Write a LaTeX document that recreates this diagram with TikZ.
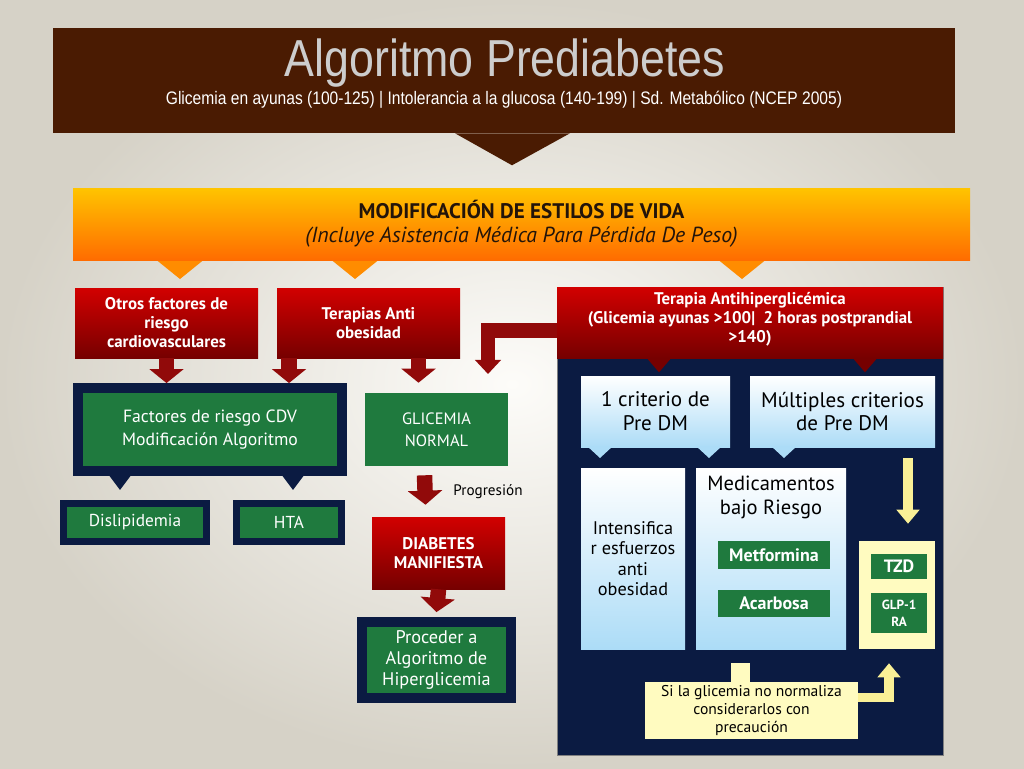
\documentclass[tikz,border=0pt]{standalone}
\usepackage{fontspec}
\setmainfont{PT Sans}
\newfontfamily\titulofont[FakeStretch=0.86]{Liberation Sans}
\usetikzlibrary{arrows.meta,calc}

\definecolor{cafe}{RGB}{74,27,2}
\definecolor{gristit}{RGB}{205,205,205}
\definecolor{naranjaA}{RGB}{255,196,0}
\definecolor{naranjaB}{RGB}{255,108,0}
\definecolor{naranjaT}{RGB}{255,140,0}
\definecolor{rojoA}{RGB}{210,0,0}
\definecolor{rojoB}{RGB}{118,0,0}
\definecolor{flechaR}{RGB}{145,10,10}
\definecolor{verde}{RGB}{31,122,62}
\definecolor{marino}{RGB}{11,27,66}
\definecolor{celeste}{RGB}{172,220,247}
\definecolor{amarillo}{RGB}{255,251,192}
\definecolor{amarilloF}{RGB}{250,240,150}
\definecolor{fondoA}{RGB}{253,252,249}
\definecolor{fondoB}{RGB}{214,210,199}

\tikzset{
  dims/.style 2 args={minimum width=#1*0.25mm, minimum height=#2*0.25mm, inner sep=0pt},
  rojo/.style={top color=rojoA, bottom color=rojoB, text=white, font=\bfseries\fontsize{12}{13.5}\selectfont, align=center},
  verdebox/.style={fill=verde, text=white, align=center},
  marco/.style={verdebox, draw=marino, line width=#1},
  marco/.default=7pt,
  celestebox/.style={top color=white, bottom color=celeste, align=center},
  flecha/.style={draw=flechaR, line width=11pt, -{Triangle[length=10pt,width=24pt]}},
  flechita/.style={draw=amarilloF, line width=7pt, -{Triangle[length=10pt,width=16pt]}}
}

\begin{document}
\begin{tikzpicture}[x=0.25mm,y=-0.25mm]
  % Fondo
  \useasboundingbox (0,0) rectangle (1024,768);
  \shade[inner color=fondoA, outer color=fondoB] (0,0) rectangle (1024,768);

  % Titulo
  \node[fill=cafe, dims={902}{105}] (banner) at (504,80.5) {};
  \fill[cafe] ($(banner.south)+(-49,0)$) -- ($(banner.south)+(66,0)$) -- ($(banner.south)+(8,32)$) -- cycle;
  \node[text=gristit, font=\titulofont\fontsize{37}{40}\selectfont] (titulo) at (505,63) {Algoritmo Prediabetes};
  \node[text=white, font=\titulofont\fontsize{12.9}{14}\selectfont] (subtit) at (504,100)
    {Glicemia en ayunas (100-125) | Intolerancia a la glucosa (140-199) | Sd. Metabólico (NCEP 2005)};

  % Estilos de vida
  \foreach \x in {180,355,742}
    \fill[naranjaT] (\x-26,258) -- (\x+26,258) -- (\x,279) -- cycle;
  \node[top color=naranjaA, bottom color=naranjaB, dims={897}{72}, align=center,
        font=\fontsize{15}{17}\selectfont, text={rgb,255:red,35;green,20;blue,10}] (estilos) at (521.5,224)
    {{\bfseries MODIFICACIÓN DE ESTILOS DE VIDA}\\
     {\itshape\fontsize{15.5}{17}\selectfont (Incluye Asistencia Médica Para Pérdida De Peso)}};

  % Fila roja
  \node[rojo, dims={183}{70}] (otros) at (166.5,323) {Otros factores de\\riesgo\\cardiovasculares};
  \node[rojo, dims={183}{70}] (terap) at (368.5,323) {Terapias Anti\\obesidad};
  \node[fill=marino, draw=gray, dims={386}{468}] (panel) at (750,521) {};
  \node[rojo, dims={386}{71}] (anti) at (750,322.5)
    {Terapia Antihiperglicémica\\(Glicemia ayunas >100|\ \ 2 horas postprandial\\>140)\\[-6pt]\mbox{}};
  \fill[rojoB] ($(anti.south)+(-103,0)$) -- ($(anti.south)+(-79,0)$) -- ($(anti.south)+(-91,14)$) -- cycle;
  \fill[rojoB] ($(anti.south)+(103,0)$) -- ($(anti.south)+(127,0)$) -- ($(anti.south)+(115,14)$) -- cycle;

  % Columna izquierda
  \node[marco=7pt, dims={264}{83}, font=\fontsize{12.6}{16.5}\selectfont] (cdv) at (210,429.5)
    {Factores de riesgo CDV\\Modificación Algoritmo};
  \fill[marino] ($(cdv.south)+(-102,-2)$) -- ($(cdv.south)+(-78,-2)$) -- ($(cdv.south)+(-90,14)$) -- cycle;
  \fill[marino] ($(cdv.south)+(71,-2)$) -- ($(cdv.south)+(95,-2)$) -- ($(cdv.south)+(83,14)$) -- cycle;
  \node[marco=5pt, dims={143}{38}, font=\fontsize{12.3}{14}\selectfont] (dislip) at (135,522.5) {Dislipidemia};
  \node[marco=5pt, dims={105}{38}, font=\fontsize{12.3}{14}\selectfont] (hta) at (289,522.5) {HTA};

  % Columna central
  \node[verdebox, dims={143}{73}, font=\fontsize{11.7}{15.5}\selectfont] (glic) at (436.5,429.5) {GLICEMIA\\NORMAL};
  \node[rojo, dims={133}{72}] (diab) at (438.5,553) {DIABETES\\MANIFIESTA};
  \node[marco=7pt, dims={149}{76}, font=\fontsize{13}{15}\selectfont] (proc) at (436.5,660)
    {Proceder a\\Algoritmo de\\Hiperglicemia};
  \node[font=\fontsize{10.8}{12}\selectfont] (progr) at (488,492) {Progresión};

  % Panel derecho
  \node[celestebox, dims={149}{71}, font=\fontsize{15}{17}\selectfont] (crit1) at (655.5,411.5) {1 criterio de\\Pre DM};
  \node[celestebox, dims={185}{71}, font=\fontsize{15}{17}\selectfont] (multi) at (842.5,411.5) {Múltiples criterios\\de Pre DM};
  \foreach \x in {600,709,784}
    \fill[celeste] (\x-13,446) -- (\x+13,446) -- (\x,458) -- cycle;
  \node[celestebox, dims={104}{181}, font=\fontsize{13}{14.6}\selectfont] (intens) at (633,558.5)
    {Intensifica\\r esfuerzos\\anti\\obesidad};
  \node[celestebox, dims={150}{181}] (medic) at (771,558.5) {};
  \node[font=\fontsize{14.6}{17}\selectfont, align=center] (medtit) at (771,497) {Medicamentos\\bajo Riesgo};
  \node[verdebox, dims={112}{28}, font=\bfseries\fontsize{12.8}{14}\selectfont] (metf) at (774,555) {Metformina};
  \node[verdebox, dims={112}{27}, font=\bfseries\fontsize{12.8}{14}\selectfont] (acarb) at (774,603.5) {Acarbosa};
  \node[fill=amarillo, dims={76}{108}] (ybox) at (897,595) {};
  \node[verdebox, dims={56}{25}, font=\bfseries\fontsize{12.7}{14}\selectfont] (tzd) at (899,566.5) {TZD};
  \node[verdebox, dims={56}{40}, font=\bfseries\fontsize{9.4}{12}\selectfont] (glp) at (899,613) {GLP-1\\RA};
  \fill[amarillo] (731,663) rectangle (750,684);
  \node[fill=amarillo, dims={213}{57}, align=center, font=\fontsize{11.1}{13}\selectfont] (aviso) at (751.5,710.5)
    {Si la glicemia no normaliza\\considerarlos con\\precaución};

  % Flechas
  \draw[flecha] (otros.south) -- (otros.south |- cdv.north);
  \draw[flecha] (terap.south -| hta) -- (cdv.north -| hta);
  \draw[flecha] ($(terap.south)+(50,0)$) -- ($(glic.north)+(-18,-10)$);
  \draw[flecha] ($(glic.south)+(-12,9)$) -- ($(diab.north)+(-13,-12)$);
  \draw[flecha] (diab.south) -- ($(proc.north)+(0,-5)$);
  \coordinate (hipo) at (488,374);
  \draw[flecha, line width=10pt, -{Triangle[length=10pt,width=18pt]}] ($(anti.west)+(0,8)$) -| (hipo);
  \draw[flechita] ($(multi.south)+(65.5,11)$) -- ($(ybox.north)+(11,-17)$);
  \draw[flechita] ($(aviso.east)+(0,-13)$) -| ($(ybox.south)+(-8,14)$);
\end{tikzpicture}
\end{document}
